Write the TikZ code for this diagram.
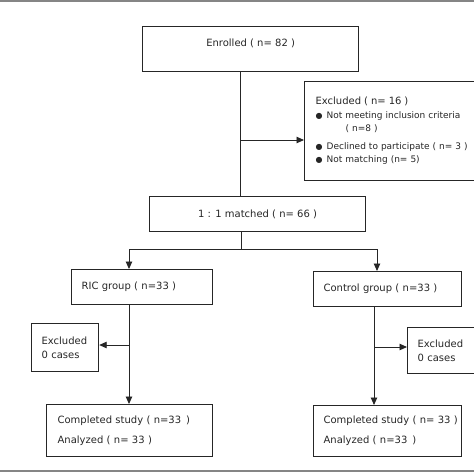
\documentclass[tikz,border=0pt]{standalone}
\usepackage{fontspec}
\setmainfont{DejaVu Sans}
\usetikzlibrary{arrows.meta}
\definecolor{fcline}{HTML}{262626}
\definecolor{fcframe}{HTML}{858585}
\newcommand{\exbullet}{\makebox[11pt][l]{\raisebox{0.3pt}{\fontsize{8}{8}\selectfont ●}}}

\begin{document}
\begin{tikzpicture}[x=1pt, y=-1pt, font=\fontsize{10}{12}\selectfont,
    box/.style={draw=fcline, line width=1.2pt, inner sep=0pt, text=fcline, anchor=north west},
    lbox/.style={box, align=left, inner xsep=10pt},
    ln/.style={draw=fcline, line width=0.9pt},
    arr/.style={ln, -{Triangle[length=7.5pt, width=6.5pt]}}]
  \useasboundingbox (0,0) rectangle (474,474);
  \draw[fcframe, line width=2pt] (0,1) -- (474,1);
  \draw[fcframe, line width=1.5pt] (0,471) -- (474,471);
  \node[box, minimum width=216pt, minimum height=45pt, text depth=12pt] (enrol) at (142,26)
    {Enrolled ( n= 82 )};
  \node[lbox, inner xsep=11pt, text width=154pt, minimum height=99pt,
        font=\fontsize{9}{12}\selectfont] (excl) at (304,81)
    {{\fontsize{10}{12}\selectfont Excluded ( n= 16 )}\\[2pt]
     \exbullet Not meeting inclusion criteria\\[1pt]
     \hspace*{30pt}( n=8 )\\[6pt]
     \exbullet Declined to participate ( n= 3 )\\[1pt]
     \exbullet Not matching (n= 5)};
  \node[box, minimum width=216pt, minimum height=35pt] (matched) at (149,196)
    {1 : 1 matched ( n= 66 )};
  \node[lbox, text width=121pt, minimum height=35pt] (ric) at (71,269)
    {RIC group ( n=33 )};
  \node[lbox, text width=128pt, minimum height=35pt] (ctrl) at (313,271)
    {Control group ( n=33 )};
  \node[lbox, text width=47pt, minimum height=48pt] (exclL) at (31,323)
    {Excluded\\[2pt] 0 cases};
  \node[lbox, text width=53pt, minimum height=46pt] (exclR) at (407,327)
    {Excluded\\[2pt] 0 cases};
  \node[lbox, inner xsep=11pt, text width=144pt, minimum height=52pt] (compL) at (46,404)
    {Completed study ( n=33 \,)\\[8pt] Analyzed ( n= 33 )};
  \node[lbox, text width=128pt, minimum height=51pt] (compR) at (313,405)
    {\mbox{Completed study ( n= 33 )}\\[8pt] Analyzed ( n=33 \,)};
  \coordinate (trunk) at (240,140);
  \coordinate (split) at (241,249);
  \coordinate (splitL) at (129,249);
  \coordinate (splitR) at (377,249);
  \coordinate (forkL) at (129,345);
  \coordinate (forkR) at (374,347);
  \draw[ln] (enrol.south -| trunk) -- (matched.north -| trunk);
  \draw[arr] (trunk) -- (trunk -| excl.west);
  \draw[ln] (matched.south -| split) -- (split);
  \draw[ln] (splitL) -- (splitR);
  \draw[arr] (splitL) -- (splitL |- ric.north);
  \draw[arr] (splitR) -- (splitR |- ctrl.north);
  \draw[arr] (ric.south -| forkL) -- (compL.north -| forkL);
  \draw[arr] (forkL) -- (forkL -| exclL.east);
  \draw[arr] (ctrl.south -| forkR) -- (compR.north -| forkR);
  \draw[arr] (forkR) -- (forkR -| exclR.west);
\end{tikzpicture}
\end{document}
